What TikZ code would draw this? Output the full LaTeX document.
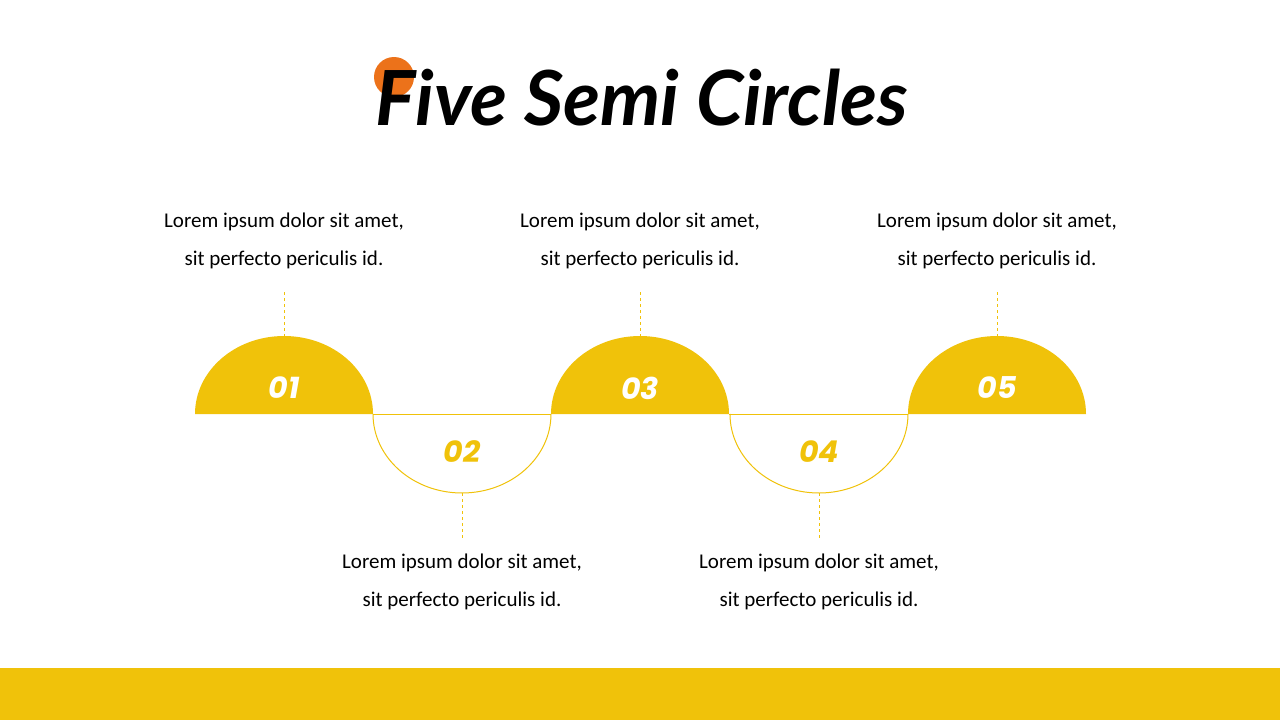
\documentclass[tikz,border=0pt]{standalone}
\usepackage{fontspec}
\setmainfont{Carlito}
\newfontfamily\numfont{Poppins}
\newfontfamily\titlefont{Lato}
\definecolor{gold}{RGB}{240,194,10}
\definecolor{orng}{RGB}{236,114,26}
\begin{document}
\begin{tikzpicture}[x=1pt,y=-1pt,
  desc/.style={align=center,font=\fontsize{21}{38}\selectfont,text=black,inner sep=0pt},
  num/.style={font=\numfont\bfseries\itshape\fontsize{30}{30}\selectfont,inner sep=0pt},
  guide/.style={draw=gold,dashed,line width=0.8pt}]
\useasboundingbox (0,0) rectangle (1280,720);
\fill[white] (0,0) rectangle (1280,720);
% bottom bar
\fill[gold] (0,668) rectangle (1280,720);
% title
\fill[orng] (394,77) circle (20);
\node[font=\titlefont\bfseries\itshape\fontsize{76}{76}\selectfont,inner sep=0pt] (title) at (642,98) {Five Semi Circles};
% baseline
\draw[gold,line width=1pt] (373,414) -- (551,414);
\draw[gold,line width=1pt] (729,414) -- (908,414);
% upper filled semicircles
\foreach \cx in {284,640,997}{
  \fill[gold] (\cx-89,414) arc[start angle=180,end angle=0,x radius=89,y radius=-78] -- cycle;
}
% lower outlined semicircles
\foreach \cx in {462,819}{
  \draw[gold,line width=1pt] (\cx-89,414) arc[start angle=180,end angle=360,x radius=89,y radius=-79];
}
% numbers
\node[num,text=white] (n1) at (284,388) {01};
\node[num,text=gold] (n2) at (462,452) {02};
\node[num,text=white] (n3) at (640,388) {03};
\node[num,text=gold] (n4) at (819,452) {04};
\node[num,text=white] (n5) at (997,388) {05};
% texts
\node[desc] (t1) at (284,241) {Lorem ipsum dolor sit amet,\\sit perfecto\ periculis id.};
\node[desc] (t3) at (640,241) {Lorem ipsum dolor sit amet,\\sit perfecto\ periculis id.};
\node[desc] (t5) at (997,241) {Lorem ipsum dolor sit amet,\\sit perfecto\ periculis id.};
\node[desc] (t2) at (462,582) {Lorem ipsum dolor sit amet,\\sit perfecto\ periculis id.};
\node[desc] (t4) at (819,582) {Lorem ipsum dolor sit amet,\\sit perfecto\ periculis id.};
% guide anchors
\coordinate (g1a) at (284,292); \coordinate (g1b) at (284,336);
\coordinate (g3a) at (640,292); \coordinate (g3b) at (640,336);
\coordinate (g5a) at (997,292); \coordinate (g5b) at (997,336);
\coordinate (g2a) at (462,493); \coordinate (g2b) at (462,538);
\coordinate (g4a) at (819,493); \coordinate (g4b) at (819,538);
\draw[guide] (g1a) -- (g1b);
\draw[guide] (g3a) -- (g3b);
\draw[guide] (g5a) -- (g5b);
\draw[guide] (g2a) -- (g2b);
\draw[guide] (g4a) -- (g4b);
\end{tikzpicture}
\end{document}
